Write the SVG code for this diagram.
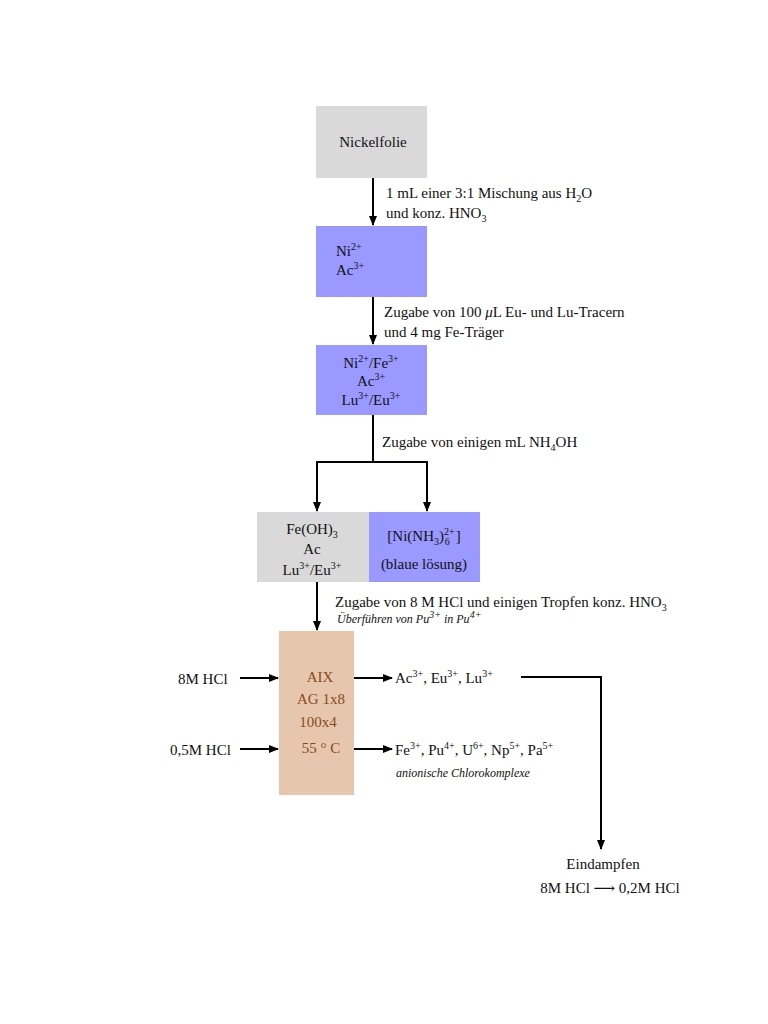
<svg xmlns="http://www.w3.org/2000/svg" width="768" height="1024" viewBox="0 0 768 1024">
<style>
text{font-family:"Liberation Serif","DejaVu Serif",serif;font-size:15px;fill:#111}
.c{text-anchor:middle}
.i{font-style:italic;font-size:12px}
.b{fill:#8a4a22}
.ln{stroke:#000;stroke-width:2;fill:none}
.s{font-size:10px}
</style>
<defs><marker id="a" markerWidth="10" markerHeight="10" refX="9" refY="5" orient="auto" markerUnits="userSpaceOnUse"><path d="M0,1 L10,5 L0,9 Z" fill="#000"/></marker></defs>
<rect width="768" height="1024" fill="#fff"/>
<g id="connectors">
<line class="ln" x1="373" y1="178" x2="373" y2="225" marker-end="url(#a)"/>
<line class="ln" x1="373" y1="297" x2="373" y2="344" marker-end="url(#a)"/>
<polyline class="ln" points="373,415 373,462"/>
<polyline class="ln" points="317,511 317,462 427,462 427,511" marker-end="url(#a)"/>
<line class="ln" x1="317" y1="470" x2="317" y2="511" marker-end="url(#a)"/>
<line class="ln" x1="317" y1="582" x2="317" y2="630" marker-end="url(#a)"/>
<line class="ln" x1="240" y1="678" x2="278" y2="678" marker-end="url(#a)"/>
<line class="ln" x1="240" y1="749" x2="278" y2="749" marker-end="url(#a)"/>
<line class="ln" x1="354" y1="678" x2="392" y2="678" marker-end="url(#a)"/>
<line class="ln" x1="354" y1="749" x2="392" y2="749" marker-end="url(#a)"/>
<polyline class="ln" points="521,677 601,677 601,849" marker-end="url(#a)"/>
</g>
<g id="n1"><rect x="316" y="106" width="111" height="72" fill="#d9d9d9"/><text class="c" x="373" y="147">Nickelfolie</text></g>
<text x="386" y="198">1 mL einer 3:1 Mischung aus H<tspan class="s" dy="4">2</tspan><tspan dy="-4">O</tspan></text>
<text x="386" y="218">und konz. HNO<tspan class="s" dy="4">3</tspan></text>
<g id="n2"><rect x="316" y="226" width="111" height="71" fill="#9999ff"/><text x="336" y="256">Ni<tspan class="s" dy="-6">2+</tspan></text><text x="336" y="275">Ac<tspan class="s" dy="-6">3+</tspan></text></g>
<text x="384" y="317">Zugabe von 100 <tspan font-style="italic">μ</tspan>L Eu- und Lu-Tracern</text>
<text x="384" y="337">und 4 mg Fe-Träger</text>
<g id="n3"><rect x="316" y="345" width="111" height="70" fill="#9999ff"/>
<text class="c" x="371" y="368">Ni<tspan class="s" dy="-6">2+</tspan><tspan dy="6">/Fe</tspan><tspan class="s" dy="-6">3+</tspan></text>
<text class="c" x="371" y="386">Ac<tspan class="s" dy="-6">3+</tspan></text>
<text class="c" x="371" y="405">Lu<tspan class="s" dy="-6">3+</tspan><tspan dy="6">/Eu</tspan><tspan class="s" dy="-6">3+</tspan></text></g>
<text x="382" y="447">Zugabe von einigen  mL NH<tspan class="s" dy="4">4</tspan><tspan dy="-4">OH</tspan></text>
<g id="n4"><rect x="257" y="512" width="112" height="70" fill="#d9d9d9"/>
<text class="c" x="312" y="534">Fe(OH)<tspan class="s" dy="4">3</tspan></text>
<text class="c" x="312" y="554">Ac</text>
<text class="c" x="312" y="575">Lu<tspan class="s" dy="-6">3+</tspan><tspan dy="6">/Eu</tspan><tspan class="s" dy="-6">3+</tspan></text></g>
<g id="n5"><rect x="369" y="512" width="111" height="70" fill="#9999ff"/>
<text class="c" x="424" y="541">[Ni(NH<tspan class="s" dy="4">3</tspan><tspan dy="-4">)</tspan><tspan class="s" dy="-6">2+</tspan><tspan class="s" dx="-10" dy="10">6</tspan><tspan dx="6" dy="-4">]</tspan></text>
<text class="c" x="424" y="569">(blaue lösung)</text></g>
<text x="335" y="607">Zugabe von 8 M HCl und einigen Tropfen konz. HNO<tspan class="s" dy="4">3</tspan></text>
<text class="i" x="337" y="623">Überführen von Pu<tspan class="s" dy="-5">3+</tspan><tspan dy="5"> in Pu</tspan><tspan class="s" dy="-5">4+</tspan></text>
<g id="n6"><rect x="279" y="631" width="75" height="164" fill="#e6c7ad"/>
<text class="c b" x="320" y="682">AIX</text>
<text class="c b" x="321" y="704">AG 1x8</text>
<text class="c b" x="318" y="727">100x4</text>
<text class="c b" x="321" y="753">55 ° C</text></g>
<text x="178" y="684">8M HCl</text>
<text x="170" y="755">0,5M HCl</text>
<text x="395" y="683">Ac<tspan class="s" dy="-6">3+</tspan><tspan dy="6">, Eu</tspan><tspan class="s" dy="-6">3+</tspan><tspan dy="6">, Lu</tspan><tspan class="s" dy="-6">3+</tspan></text>
<text x="395" y="755">Fe<tspan class="s" dy="-6">3+</tspan><tspan dy="6">, Pu</tspan><tspan class="s" dy="-6">4+</tspan><tspan dy="6">, U</tspan><tspan class="s" dy="-6">6+</tspan><tspan dy="6">, Np</tspan><tspan class="s" dy="-6">5+</tspan><tspan dy="6">, Pa</tspan><tspan class="s" dy="-6">5+</tspan></text>
<text class="i" x="396" y="777">anionische Chlorokomplexe</text>
<g id="n7"><text class="c" x="603" y="869">Eindampfen</text>
<text class="c" x="610" y="893">8M HCl ⟶ 0,2M HCl</text></g>
</svg>
